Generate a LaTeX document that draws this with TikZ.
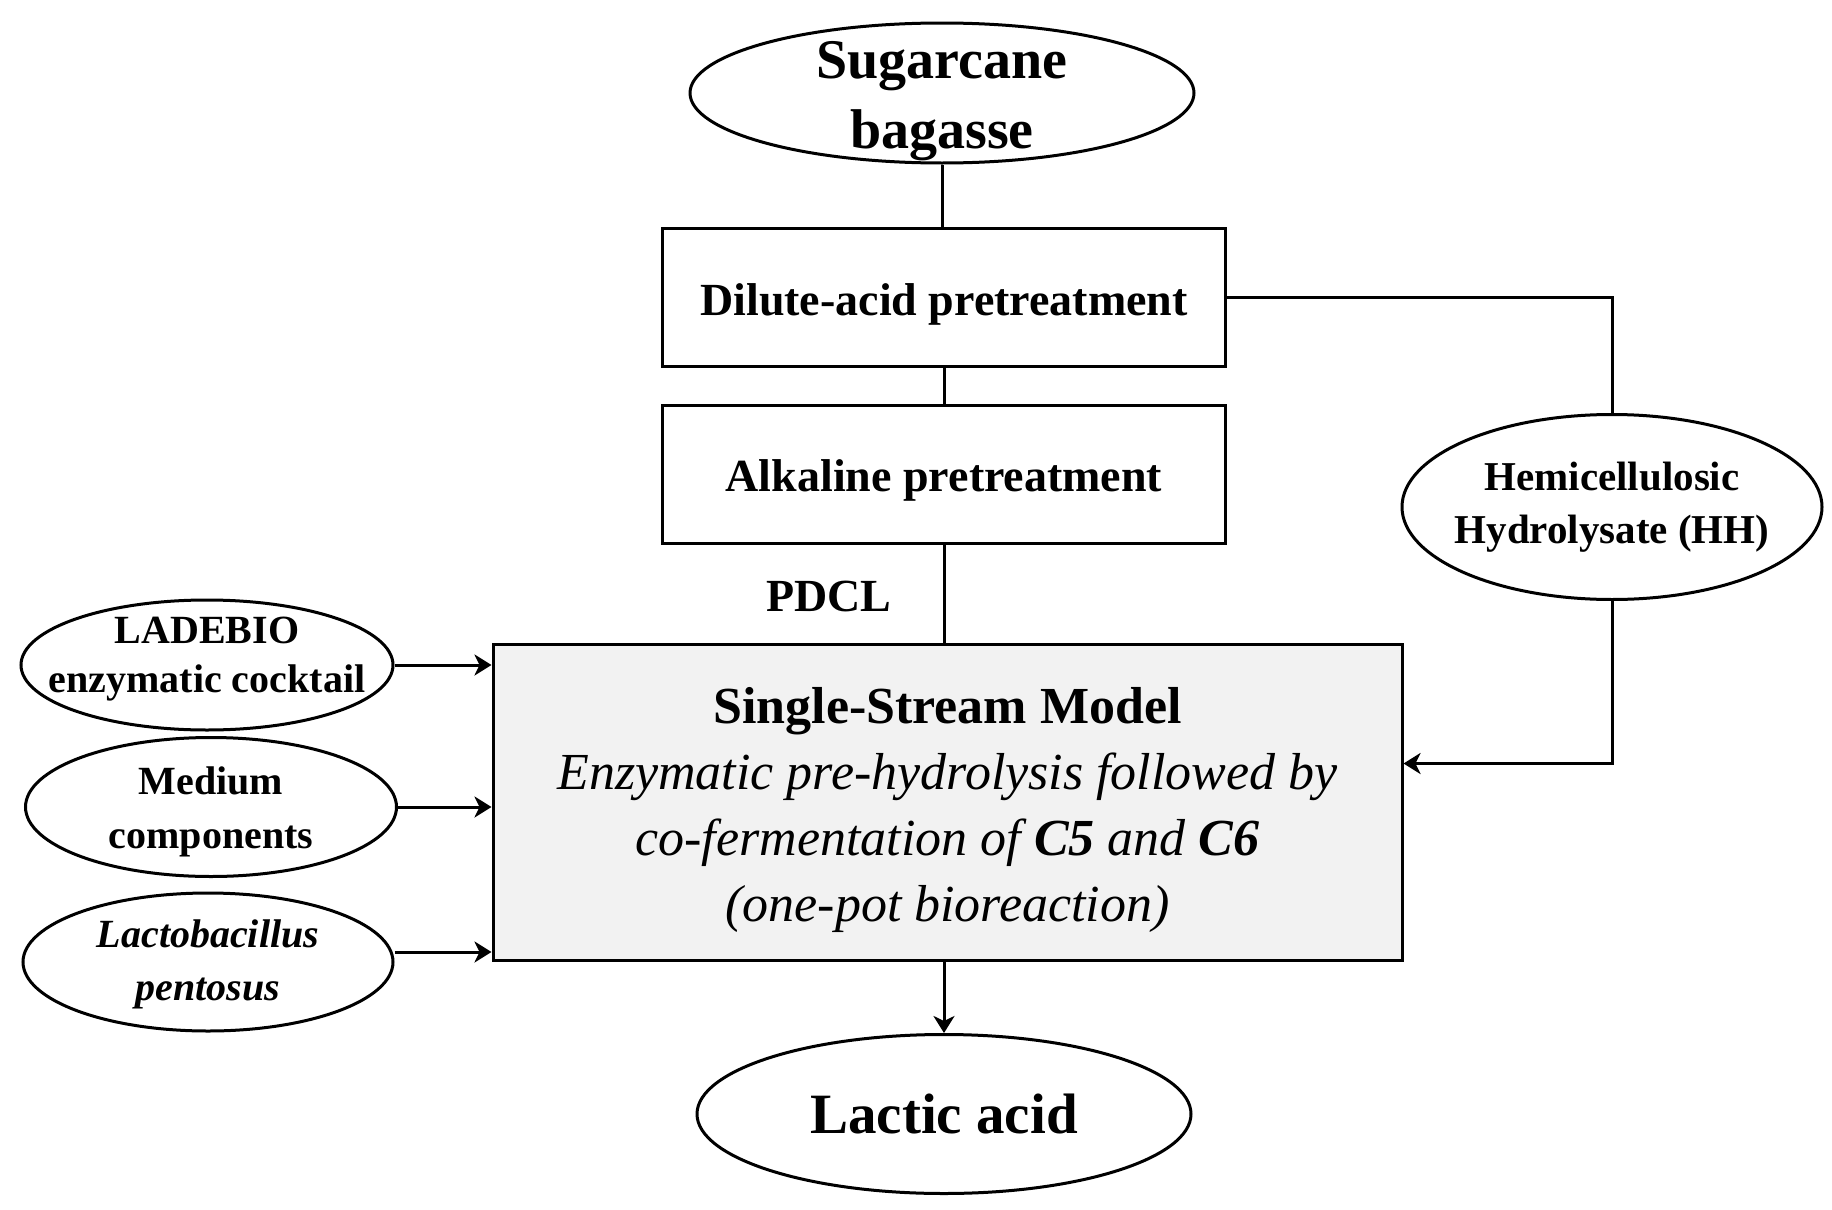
\documentclass[tikz,border=0pt]{standalone}
\usepackage{fontspec}
\setmainfont{Liberation Serif}
\usetikzlibrary{shapes.geometric,arrows.meta,calc}
\definecolor{boxgray}{HTML}{F2F2F2}
\begin{document}
\begin{tikzpicture}[x=0.5pt,y=-0.5pt,
  ln/.style={line width=1.5pt},
  arr/.style={line width=1.5pt,-{Stealth[length=8.5pt,width=10.5pt,inset=2.5pt]}},
  ell/.style={draw,ellipse,line width=1.5pt,inner sep=0pt},
  stepbox/.style={draw,rectangle,line width=1.5pt,inner sep=0pt,minimum width=281.5pt,minimum height=69pt,font=\fontsize{23pt}{28pt}\selectfont\bfseries},
  lbl/.style={align=center,inner sep=0pt},
]
\useasboundingbox (0,0) rectangle (1832,1210);

\node[ell,minimum width=252pt,minimum height=70pt] (sb) at (942,93) {};
\node[lbl,font=\fontsize{28pt}{35pt}\selectfont\bfseries,yshift=-4pt] (sbt) at (sb.center) {Sugarcane\\bagasse};

\node[stepbox] (dil) at (944,297) {};
\node[lbl,font=\fontsize{23pt}{28pt}\selectfont\bfseries,yshift=-3.5pt] (dilt) at (dil.center) {Dilute-acid pretreatment};
\node[stepbox] (alk) at (944,474) {};
\node[lbl,font=\fontsize{23pt}{28pt}\selectfont\bfseries,yshift=-3pt] (alkt) at (alk.center) {Alkaline pretreatment};

\node[draw,fill=boxgray,line width=1.5pt,minimum width=454.5pt,minimum height=158pt,inner sep=0pt] (ssm) at (947.5,802) {};
\node[lbl,font=\fontsize{26pt}{33pt}\selectfont,yshift=-4pt] (ssmt) at (ssm.center)
  {{\bfseries Single-Stream Model}\\
   \textit{Enzymatic pre-hydrolysis followed by}\\
   \textit{co-fermentation of \textbf{C5} and \textbf{C6}}\\
   \textit{(one-pot bioreaction)}};

\node[ell,minimum width=247pt,minimum height=79.5pt] (la) at (944,1114) {};
\node[lbl,font=\fontsize{28.5pt}{34pt}\selectfont\bfseries] (lat) at (la.center) {Lactic acid};

\node[ell,minimum width=210pt,minimum height=92.5pt] (hh) at (1612,507) {};
\node[lbl,font=\fontsize{20.5pt}{26.5pt}\selectfont\bfseries] (hht) at (hh.center) {Hemicellulosic\\Hydrolysate (HH)};

\node[inner sep=0pt,font=\fontsize{23pt}{28pt}\selectfont\bfseries] (pdcl) at (829,596) {PDCL};

\node[ell,minimum width=186pt,minimum height=65pt] (e1) at (207,665) {};
\node[lbl,font=\fontsize{20pt}{24.5pt}\selectfont\bfseries,yshift=3pt] (e1t) at (e1.center) {LADEBIO\\enzymatic cocktail};
\node[ell,minimum width=185.5pt,minimum height=69.5pt] (e2) at (211,807) {};
\node[lbl,font=\fontsize{20pt}{27pt}\selectfont\bfseries,yshift=-2.5pt] (e2t) at (e2.center) {Medium\\components};
\node[ell,minimum width=185pt,minimum height=69pt] (e3) at (208,962) {};
\node[lbl,font=\fontsize{20pt}{26.5pt}\selectfont\bfseries\itshape,yshift=-1pt] (e3t) at (e3.center) {Lactobacillus\\pentosus};

\draw[ln] (sb.south) -- (sb.south |- dil.north);
\draw[ln] (dil.south) -- (alk.north);
\draw[ln] (alk.south) -- (alk.south |- ssm.north);
\draw[arr] (ssm.south -| la.north) -- (la.north);
\draw[ln] (dil.east) -| (hh.north);
\coordinate (hin) at ($(ssm.north east)+(0,121)$);
\draw[arr] (hh.south) |- (hin);
\draw[arr] (e1.east) -- (e1.east -| ssm.west);
\draw[arr] (e2.east) -- (e2.east -| ssm.west);
\coordinate (e3o) at ($(e3.east)+(0,-10)$);
\draw[arr] (e3o) -- (e3o -| ssm.west);
\end{tikzpicture}
\end{document}
